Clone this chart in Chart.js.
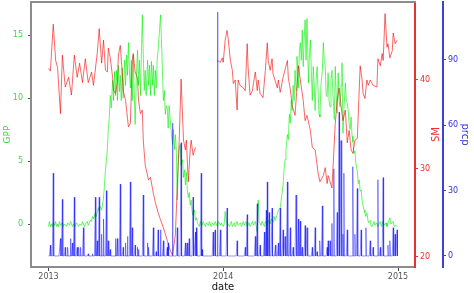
<!DOCTYPE html>
<html>
<head>
<meta charset="utf-8">
<script src="https://cdn.jsdelivr.net/npm/chart.js"></script>
<style>
  body { margin: 0; background: #fff; }
</style>
</head>
<body>
<canvas id="grafico" width="474" height="293"></canvas>
<script>
// days counted from 2013-01-01
var tickDays = [0, 365, 730];
var tickLabels = ['2013', '2014', '2015'];
var gppTicks = [0, 5, 10, 15];
var smTicks = [20, 30, 40];
var prcpTicks = [0, 30, 60, 90];

// GPP (green)
var gppDays = [0,2,4,6,8,10,13,15,17,19,21,23,25,29,31,33,38,40,44,46,50,52,56,58,63,65,69,71,75,77,81,83,88,90,92,94,98,100,104,106,108,111,
  115,117,119,121,123,125,127,129,131,134,136,138,140,142,144,146,148,150,152,154,156,159,161,163,165,167,169,171,173,175,177,179,181,184,186,188,190,192,194,196,
  198,200,202,204,207,209,211,213,215,217,219,221,223,225,227,229,232,234,236,238,240,242,244,246,248,250,252,254,257,259,261,263,265,267,269,271,273,275,277,280,
  282,284,286,288,290,292,294,296,298,300,302,305,307,309,311,
  315,317,321,323,328,330,334,336,340,342,346,348,353,355,359,361,365,367,369,371,375,378,382,384,388,390,394,396,401,403,407,409,413,415,419,421,426,428,432,434,
  436,438,440,444,446,451,453,457,459,463,465,469,471,474,478,480,
  484,486,490,492,494,496,499,501,503,505,507,509,511,513,515,517,519,522,524,526,528,530,532,534,536,538,540,543,545,547,549,551,553,555,557,559,561,563,565,567,
  569,572,574,576,578,580,582,584,586,588,590,592,594,597,599,601,603,605,607,609,611,613,615,617,620,622,624,626,628,630,632,634,636,638,640,642,645,647,649,651,
  653,655,657,659,661,663,665,668,672,674,676,680,682,686,688,693,695,699,701,705,707,711,713,715,720,722,726,728];
var gppVals = [-0.2,0.2,-0.2,0,-0.2,0.1,-0.1,0.2,-0.2,0,-0.2,0.2,-0.1,0.1,-0.2,0,-0.2,0.1,-0.1,0.2,-0.2,0,-0.2,0.1,-0.2,0,-0.1,0.2,-0.2,0,0.2,-0.1,0.3,0.2,0.6,0.4,0.9,0.6,1.3,1.0,1.4,1.1,
  2.1,3.1,4.3,5.1,5.9,7.6,8.4,10.2,9.2,11.4,9.8,12.1,10.2,12.2,9.8,12.6,10.5,11.8,9.8,12.4,10.0,13.0,11.0,13.4,11.8,14.4,12.2,10.8,13.0,9.8,13.4,10.6,7.9,12.2,13.8,11.0,13.0,10.2,13.4,16.6,
  13.4,10.6,12.2,10.2,13.0,11.0,12.6,10.2,12.9,11.0,12.6,10.2,12.2,10.8,13.0,13.8,15.4,16.6,14.6,12.2,9.8,10.6,8.7,9.4,9.2,7.6,9.4,8.4,7.1,6.3,7.5,5.9,7.1,5.9,1.9,4.7,5.9,6.3,4.7,5.1,
  3.7,4.3,3.1,4.1,2.7,2.1,2.5,1.5,1.9,1.0,0.7,1.1,0.3,0.5,0.1,
  -0.2,0.2,-0.1,0.2,-0.2,0.1,-0.1,0.2,-0.2,0.1,-0.1,0.2,-0.2,0.2,-0.1,0.1,-0.2,0,1.0,0.2,0,-0.2,0.2,-0.2,0.1,-0.2,0.2,-0.1,0.1,-0.2,0.2,-0.1,0.2,-0.2,0.1,-0.2,0.2,-0.1,0.2,-0.2,
  -0.6,1.9,0.2,-0.1,0.2,-0.2,0.2,-0.1,0.3,0,0.4,0.2,0.6,0.3,0.8,1.1,
  1.3,1.9,3.1,4.3,5.1,5.9,7.1,6.7,8.7,8.0,9.8,9.0,11.0,9.8,12.2,10.6,13.3,10.8,13.8,14.4,13.0,15.4,12.5,14.6,16.2,13.0,16.3,11.2,13.4,14.6,12.2,9.8,12.5,11.0,9.0,11.4,12.5,10.6,8.7,8.5,
  11.0,12.2,14.4,13.0,12.5,10.2,10.1,12.0,9.8,9.3,11.4,12.2,10.4,8.3,12.5,10.2,8.8,12.0,9.8,9.3,11.0,12.8,7.2,9.0,11.2,9.8,9.6,9.0,7.9,7.5,8.5,7.0,6.5,5.6,5.8,4.8,4.2,3.2,3.5,2.6,
  2.7,1.9,1.5,1.1,0.9,0.6,0.9,0.1,0.3,-0.2,-0.2,0.2,-0.1,0.1,-0.2,0.2,-0.2,0.2,-0.1,0.1,-0.2,0.3,0.5,0,0.2,-0.2,-0.1,-0.2];

// SM (red), null = no data
var smDays = [0,4,10,15,19,25,29,35,42,48,54,60,65,71,77,83,90,94,102,106,111,115,119,123,125,129,134,136,140,144,146,150,154,156,161,165,167,171,175,177,
  181,186,188,192,196,198,202,209,213,219,223,229,234,240,248,254,259,265,269,273,277,282,286,288,292,296,298,302,307,
  330,
  352,359,363,365,369,373,375,380,384,386,390,394,396,400,407,411,415,417,421,426,428,432,436,438,442,448,453,457,459,463,467,469,478,480,484,490,499,501,505,509,
  515,522,526,532,536,540,547,551,557,561,563,567,574,578,582,584,592,594,599,603,607,611,615,620,624,628,632,636,640,645,651,655,657,661,665,668,672,678,686,688,
  693,697,699,703,707,709,713,718,720,724,728];
var smVals = [41.3,41.0,46.3,42.2,41.4,36.2,42.8,39.2,40.3,38.3,42.8,40.3,41.9,39.7,42.4,39.7,40.9,39.4,43.1,45.8,41.9,44.5,41.1,40.9,43.6,42.5,40.3,38.8,38.5,39.7,42.8,43.9,40.9,38.8,37.7,35.7,34.7,35.1,42.2,43.0,
  40.9,40.2,37.7,36.2,36.6,33.2,30.4,28.7,29.0,27.2,26.2,25.0,24.2,23.3,21.9,20.8,20.2,22.5,27.9,33.2,40.1,33.2,32.1,33.2,28.5,32.1,33.2,31.5,32.4,
  null,
  42.2,42.0,42.5,42.0,44.5,45.6,44.8,42.2,41.1,39.6,40.0,36.6,40.0,39.4,39.1,38.8,44.1,41.4,38.3,38.8,39.6,40.9,38.8,40.0,38.5,38.0,41.1,44.2,42.2,41.1,42.4,40.7,39.1,40.0,38.6,40.3,42.2,40.2,39.0,37.1,
  36.0,41.6,40.0,37.7,35.4,36.0,34.3,32.4,32.1,30.4,29.5,28.5,29.2,30.1,28.3,29.2,27.8,29.8,35.1,37.7,39.1,37.1,35.4,36.6,32.9,34.3,32.1,31.7,33.2,33.4,41.6,40.0,38.5,37.9,40.0,39.4,40.0,39.4,39.2,42.4,
  41.6,43.0,42.2,47.5,43.7,44.1,42.5,43.3,45.3,44.1,44.5];

// prcp (blue): rainy days, every other day is 0
var rainDays = [4,10,25,29,35,40,46,50,54,60,63,67,73,83,92,98,102,106,111,115,121,125,129,140,144,150,156,161,165,171,175,181,186,188,198,207,209,219,225,229,
  234,240,248,250,259,269,277,286,290,294,302,307,309,319,321,344,348,353,359,373,394,411,415,432,436,442,451,455,457,461,467,474,480,484,490,494,499,505,511,517,
  522,526,530,536,540,551,557,561,567,572,582,584,588,592,596,603,607,611,615,617,624,636,640,645,653,663,672,678,688,693,699,709,713,720,724,728];
var rainVals = [5,38,8,26,4,4,8,6,27,4,4,4,13,1,1,27,7,27,10,17,30,7,3,8,8,33,4,6,9,34,13,5,4,3,28,6,4,13,2,12,
  12,7,4,6,61,13,52,6,6,8,27,11,13,38,3,11,12,112,12,22,7,4,19,9,24,5,11,21,34,20,22,5,6,22,12,9,34,13,4,28,
  17,16,4,14,13,4,13,2,7,23,4,7,7,15,40,20,66,53,10,38,12,41,10,31,12,13,7,4,35,4,36,5,7,13,10,12];

document.addEventListener("DOMContentLoaded", function() {
    Chart.defaults.font.family = "'DejaVu Sans', sans-serif";

    var gppData = gppDays.map(function(d, i) { return {x: d, y: gppVals[i]}; });
    var smData = smDays.map(function(d, i) { return {x: d, y: smVals[i]}; });

    var prcpDaily = new Array(730).fill(0);
    rainDays.forEach(function(d, i) { prcpDaily[d] = rainVals[i]; });
    var prcpData = prcpDaily.map(function(v, d) { return {x: d, y: v}; });

    function setTicks(list) {
        return function(scale) { scale.ticks = list.map(function(v) { return {value: v}; }); };
    }

    // top spine + SM label (matplotlib reads it bottom-up)
    var marcos = {
        id: 'marcos',
        afterDraw: function(chart) {
            var ctx = chart.ctx;
            var a = chart.chartArea;
            ctx.save();
            ctx.strokeStyle = '#8c8c8c';
            ctx.lineWidth = 2;
            ctx.beginPath();
            ctx.moveTo(a.left - 1, a.top);
            ctx.lineTo(a.right + 1, a.top);
            ctx.stroke();
            var sm = chart.scales.sm;
            ctx.translate(sm.right - 7, (a.top + a.bottom) / 2);
            ctx.rotate(-Math.PI / 2);
            ctx.fillStyle = '#e83030';
            ctx.font = "10px 'DejaVu Sans'";
            ctx.textAlign = 'center';
            ctx.textBaseline = 'middle';
            ctx.fillText('SM', 0, 0);
            ctx.restore();
        }
    };

    var ctx = document.getElementById('grafico').getContext('2d');

    var data = {
        datasets: [{
            label: 'prcp',
            data: prcpData,
            yAxisID: 'prcp',
            borderColor: 'rgba(0, 0, 255, 0.55)',
            borderWidth: 0.8
        }, {
            label: 'SM',
            data: smData,
            yAxisID: 'sm',
            borderColor: 'rgba(245, 0, 0, 0.6)',
            borderWidth: 1
        }, {
            label: 'GPP',
            data: gppData,
            yAxisID: 'gpp',
            borderColor: 'rgba(0, 240, 0, 0.6)',
            borderWidth: 1
        }]
    };

    var options = {
        responsive: false,
        animation: false,
        devicePixelRatio: 1,
        events: [],
        layout: { padding: { top: 2, left: 0, right: 0, bottom: 0 } },
        elements: { point: { radius: 0 }, line: { tension: 0 } },
        plugins: { legend: { display: false }, tooltip: { enabled: false } },
        scales: {
            x: {
                type: 'linear',
                min: -36.5,
                max: 765.5,
                afterBuildTicks: setTicks(tickDays),
                ticks: {
                    autoSkip: false, maxRotation: 0, padding: 1, color: '#555',
                    font: { size: 8 },
                    callback: function(v, i) { return tickLabels[i]; }
                },
                grid: { drawOnChartArea: false, tickLength: 4, color: '#444' },
                border: { color: '#8c8c8c', width: 2 },
                title: { display: true, text: 'date', color: '#111', font: { size: 10 }, padding: 0 },
                afterFit: function(s) { s.height = 26; s.paddingLeft = 0; s.paddingRight = 0; }
            },
            gpp: {
                position: 'left',
                min: -3.41,
                max: 17.62,
                afterBuildTicks: setTicks(gppTicks),
                ticks: { color: '#3fd93f', font: { size: 8 }, padding: 5 },
                grid: { drawOnChartArea: false, tickLength: 3, color: '#555' },
                border: { color: '#8c8c8c', width: 2 },
                title: { display: true, text: 'GPP', color: '#3fd93f', font: { size: 9 }, padding: { top: 2, bottom: 0 } },
                afterFit: function(s) { s.width = 31; s.paddingTop = 0; s.paddingBottom = 0; }
            },
            sm: {
                position: 'right',
                min: 18.87,
                max: 48.81,
                afterBuildTicks: setTicks(smTicks),
                ticks: { color: '#e83030', font: { size: 8 }, padding: 2 },
                grid: { drawOnChartArea: false, tickLength: 3, color: '#e83030' },
                border: { color: '#e83030', width: 2 },
                afterFit: function(s) { s.width = 28; s.paddingTop = 0; s.paddingBottom = 0; }
            },
            prcp: {
                position: 'right',
                min: -5.05,
                max: 116.6,
                afterBuildTicks: setTicks(prcpTicks),
                ticks: { color: '#3030d0', font: { size: 8 }, padding: 2 },
                grid: { drawOnChartArea: false, tickLength: 3, color: '#4040d8' },
                border: { color: '#4040d8', width: 2 },
                title: { display: true, text: 'prcp', color: '#3030d0', font: { size: 10 }, padding: { top: 3, bottom: 0 } },
                afterFit: function(s) { s.width = 31; s.paddingTop = 0; s.paddingBottom = 0; }
            }
        }
    };

    var grafico = new Chart(ctx, {
        type: 'line',
        data: data,
        options: options,
        plugins: [marcos]
    });
});
</script>
</body>
</html>
